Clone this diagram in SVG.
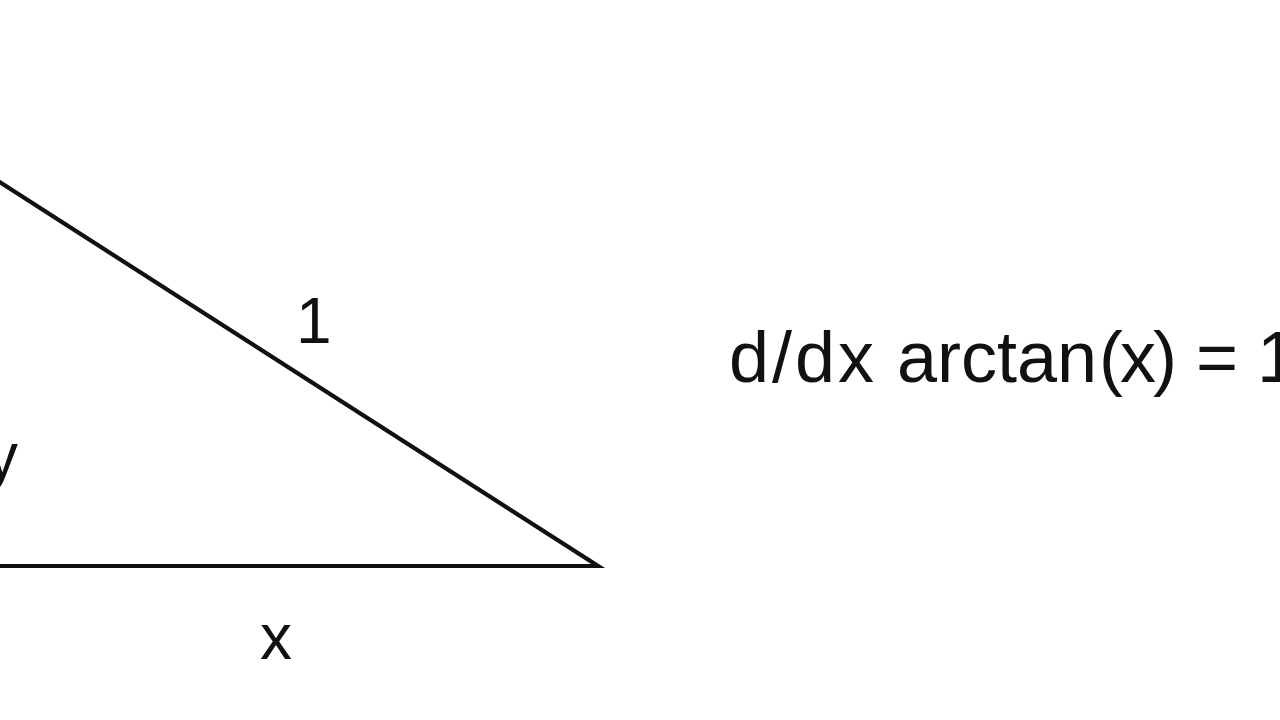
<svg xmlns="http://www.w3.org/2000/svg" width="1280" height="720" viewBox="0 0 1280 720">
<style>
.lbl{font-family:"Liberation Sans",Arial,sans-serif;fill:#111;}
.edge{stroke:#111;stroke-width:4.2;fill:none;stroke-linejoin:miter;}
</style>
<rect width="1280" height="720" fill="#fff"/>
<g id="connectors">
<path class="edge" d="M-2,181 L598,566 L-2,566"/>
</g>
<g id="label-y"><text class="lbl" x="-14" y="478" font-size="64">y</text></g>
<g id="label-1"><text class="lbl" x="296" y="343" font-size="64">1</text></g>
<g id="label-x"><text class="lbl" x="260" y="659" font-size="64">x</text></g>
<g id="equation"><text class="lbl" y="382" font-size="72"><tspan x="729" letter-spacing="3">d/dx</tspan><tspan x="897">arctan</tspan><tspan x="1099" letter-spacing="-3">(x)</tspan><tspan x="1196">=</tspan><tspan x="1257">1</tspan></text></g>
</svg>
